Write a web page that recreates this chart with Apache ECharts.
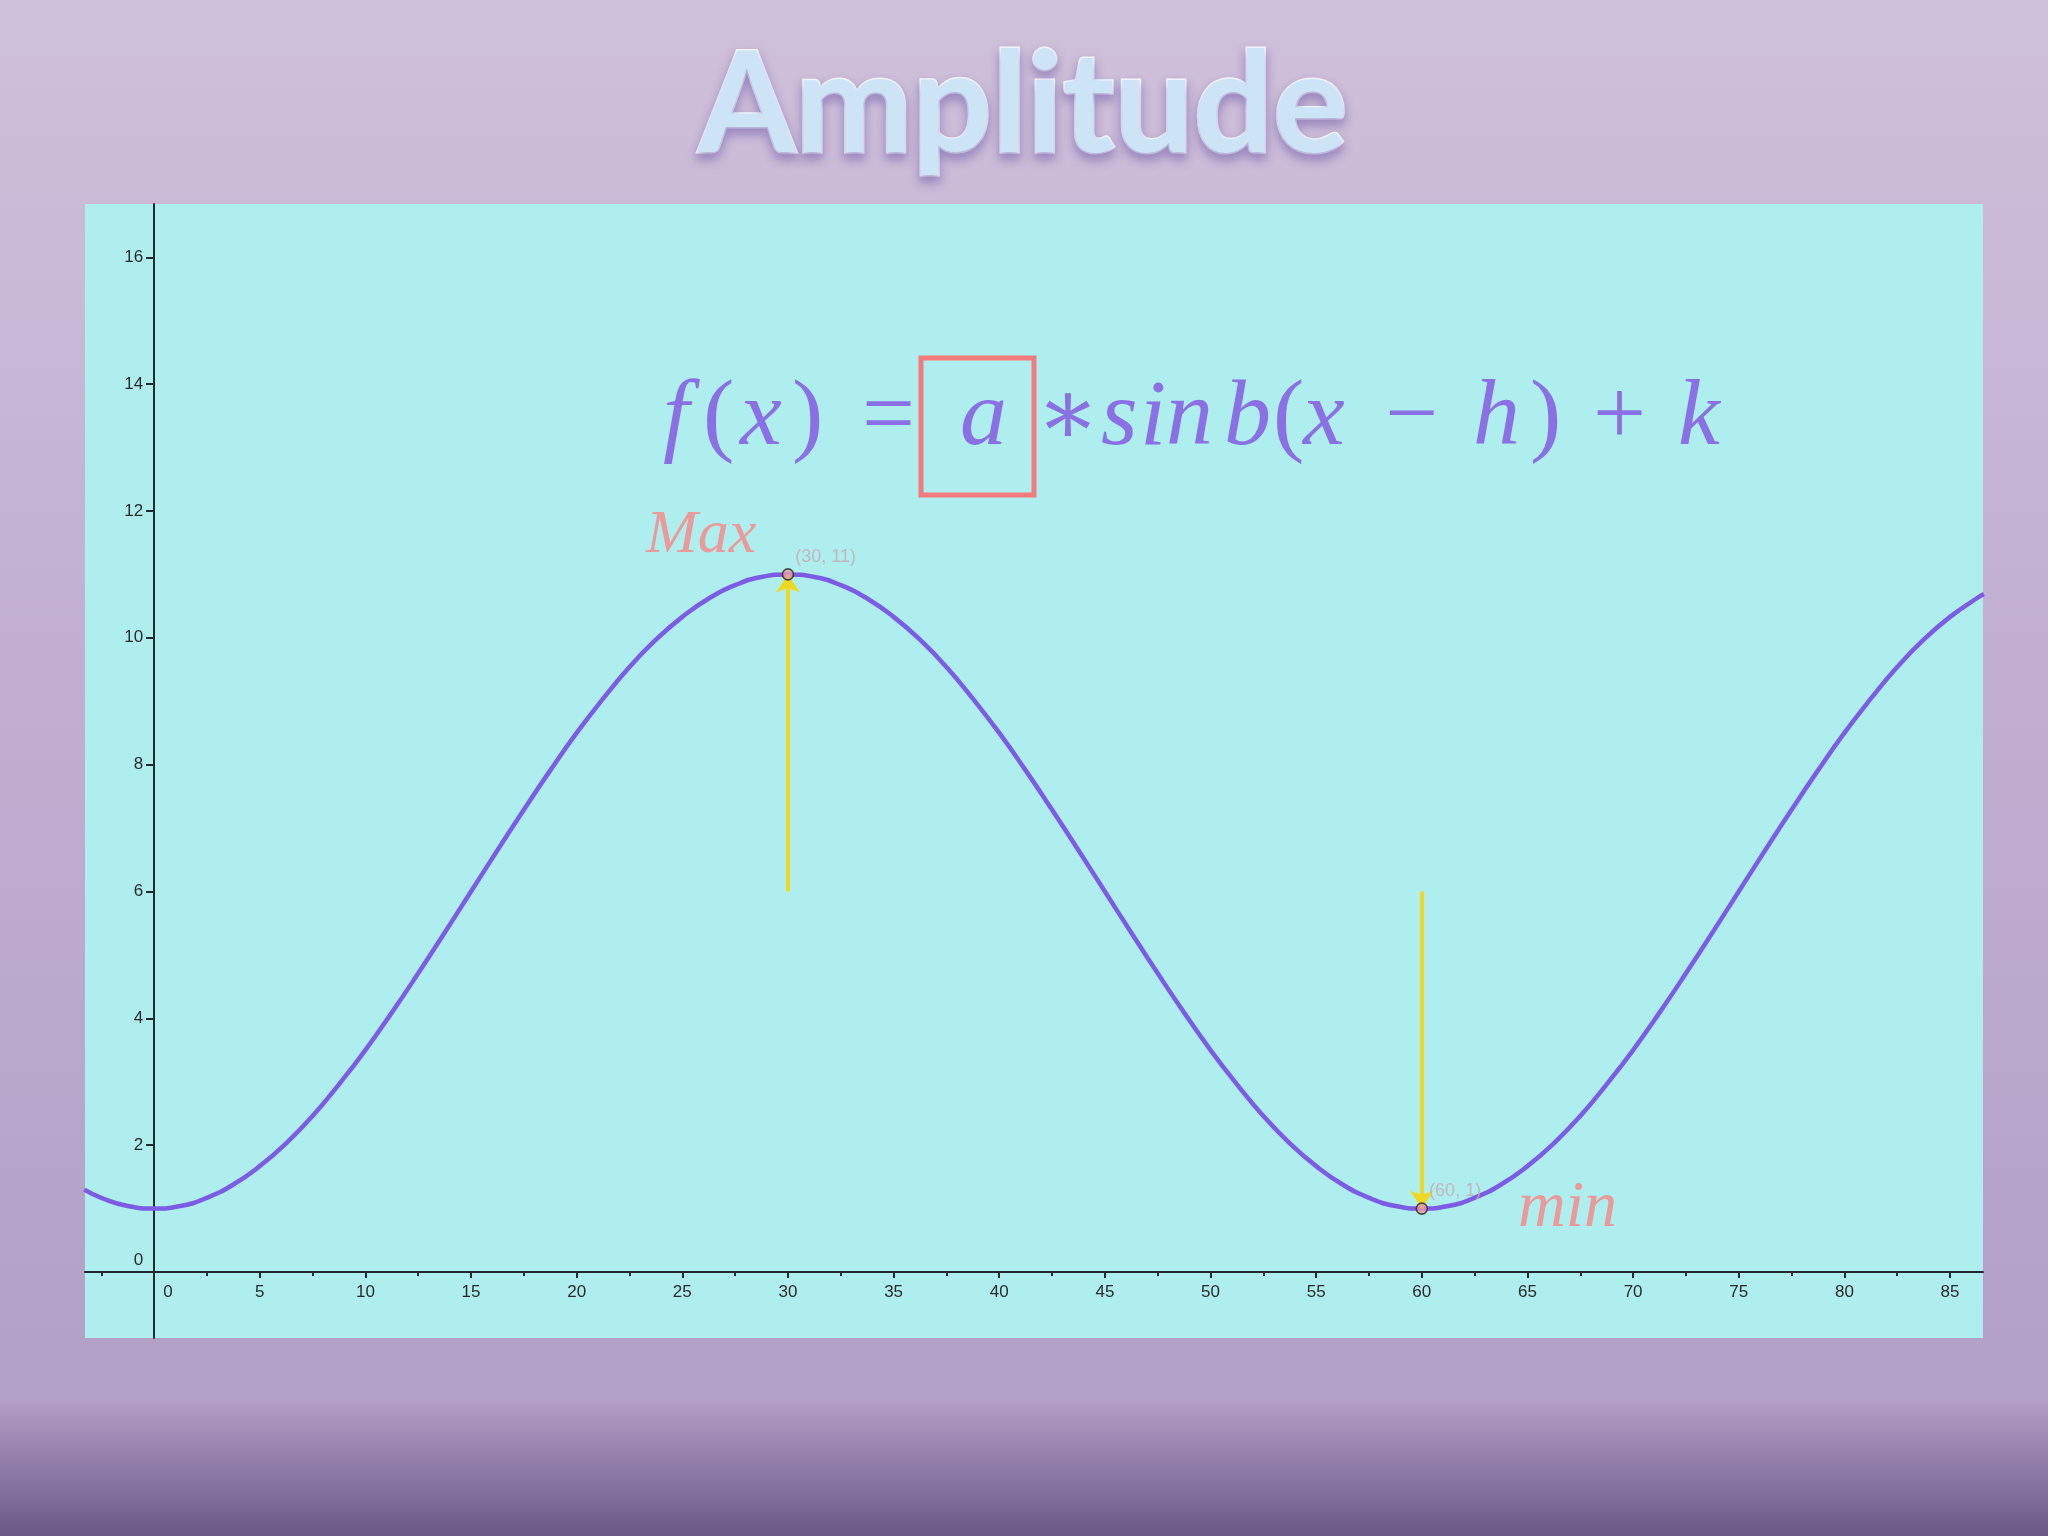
<!DOCTYPE html>
<html>
<head>
<meta charset="utf-8">
<script src="https://cdn.jsdelivr.net/npm/echarts@6/dist/echarts.min.js"></script>
<style>
html,body{margin:0;padding:0;width:2048px;height:1536px;overflow:hidden;}
#chart{width:2048px;height:1536px;}
</style>
</head>
<body>
<div id="chart"></div>
<script>
// ---- data ----
const curveX = [-3.3, -2.5, -1.25,
  0, 1.25, 2.5, 3.75, 5, 6.25, 7.5, 8.75, 10, 11.25, 12.5, 13.75, 15,
  16.25, 17.5, 18.75, 20, 21.25, 22.5, 23.75, 25, 26.25, 27.5, 28.75, 30,
  31.25, 32.5, 33.75, 35, 36.25, 37.5, 38.75, 40, 41.25, 42.5, 43.75, 45,
  46.25, 47.5, 48.75, 50, 51.25, 52.5, 53.75, 55, 56.25, 57.5, 58.75, 60,
  61.25, 62.5, 63.75, 65, 66.25, 67.5, 68.75, 70, 71.25, 72.5, 73.75, 75,
  76.25, 77.5, 78.75, 80, 81.25, 82.5, 83.75, 85, 86.25, 86.6];
const curveY = [1.30, 1.17, 1.04,
  1.00, 1.04, 1.17, 1.38, 1.67, 2.03, 2.46, 2.96, 3.50, 4.09, 4.71, 5.35, 6.00,
  6.65, 7.29, 7.91, 8.50, 9.04, 9.54, 9.97, 10.33, 10.62, 10.83, 10.96, 11.00,
  10.96, 10.83, 10.62, 10.33, 9.97, 9.54, 9.04, 8.50, 7.91, 7.29, 6.65, 6.00,
  5.35, 4.71, 4.09, 3.50, 2.96, 2.46, 2.03, 1.67, 1.38, 1.17, 1.04, 1.00,
  1.04, 1.17, 1.38, 1.67, 2.03, 2.46, 2.96, 3.50, 4.09, 4.71, 5.35, 6.00,
  6.65, 7.29, 7.91, 8.50, 9.04, 9.54, 9.97, 10.33, 10.62, 10.69];
const extremaX = [30, 60];
const extremaY = [11, 1];
const extremaLabels = ['(30, 11)', '(60, 1)'];
const arrowStartY = [6, 6];
const xTickLabels = [0, 5, 10, 15, 20, 25, 30, 35, 40, 45, 50, 55, 60, 65, 70, 75, 80, 85];
const xMinorTicks = [-2.5, 2.5, 7.5, 12.5, 17.5, 22.5, 27.5, 32.5, 37.5, 42.5, 47.5, 52.5, 57.5, 62.5, 67.5, 72.5, 77.5, 82.5];
const yTickLabels = [0, 2, 4, 6, 8, 10, 12, 14, 16];
const titleText = 'Amplitude';
const maxText = 'Max';
const minText = 'min';

// ---- layout (not data) ----
const formulaGlyphs = [
  ['f', 663, true], ['(', 703, false], ['x', 740, true], [')', 792, false],
  ['=', 862, false], ['a', 960, true], ['\u2217', 1036, false],
  ['s', 1101, true], ['i', 1140, true], ['n', 1166, true], ['b', 1224, true],
  ['(', 1273, false], ['x', 1303, true], ['\u2212', 1385, false],
  ['h', 1473, true], [')', 1530, false], ['+', 1593, false], ['k', 1678, true]
];
const X_MIN = -3.27, X_MAX = 86.56, Y_MIN = -1.04, Y_MAX = 16.84;
const GRID = {left: 85, top: 204, width: 1898, height: 1134};
// shift axes inward so they sit on the zero lines
const yAxisOffset = -GRID.width * (0 - X_MIN) / (X_MAX - X_MIN);
const xAxisOffset = -GRID.height * (0 - Y_MIN) / (Y_MAX - Y_MIN);

const curveData = curveX.map((x, i) => [x, curveY[i]]);
const pointData = extremaX.map((x, i) => ({value: [x, extremaY[i]], label: {formatter: extremaLabels[i], offset: i === 0 ? [-4, -17] : [-4, -18]}}));
const arrowData = extremaX.map((x, i) => [{coord: [x, arrowStartY[i]]}, {coord: [x, extremaY[i]]}]);

const axisFont = 'Liberation Sans';
const axisColor = '#2a2a2a';
const lineColor = '#1e2a30';
const formulaColor = '#8a70e4';

const chart = echarts.init(document.getElementById('chart'));

const graphics = [
  {
    type: 'text', x: 1023, y: 107, z: 100,
    style: {
      text: titleText,
      font: 'bold 140px Lato',
      align: 'center', verticalAlign: 'middle',
      fill: '#cde4f6',
      stroke: '#f5faff', lineWidth: 3,
      textShadowColor: 'rgba(110,90,170,0.5)', textShadowBlur: 10, textShadowOffsetY: 6
    }
  },
  {
    type: 'rect', z: 100,
    shape: {x: 921, y: 358, width: 113, height: 137},
    style: {fill: 'none', stroke: '#f37b7b', lineWidth: 5}
  },
  {
    type: 'text', x: 646, y: 536, z: 100,
    style: {text: maxText, font: 'italic 62px "Liberation Serif"', fill: '#f29090', align: 'left', verticalAlign: 'middle', opacity: 0.9}
  },
  {
    type: 'text', x: 1518, y: 1209, z: 100,
    style: {text: minText, font: 'italic 66px "Liberation Serif"', fill: '#f29090', align: 'left', verticalAlign: 'middle', opacity: 0.9}
  }
];
formulaGlyphs.forEach(g => {
  graphics.push({
    type: 'text', x: g[1], y: 419, z: 100,
    style: {
      text: g[0],
      font: (g[2] ? 'italic ' : '') + '94px "Liberation Serif", "DejaVu Serif"',
      fill: formulaColor, align: 'left', verticalAlign: 'middle'
    }
  });
});

chart.setOption({
  backgroundColor: new echarts.graphic.LinearGradient(0, 0, 0, 1, [
    {offset: 0, color: '#cfc0da'},
    {offset: 0.45, color: '#c1aed1'},
    {offset: 0.912, color: '#b3a0c7'},
    {offset: 0.914, color: '#b09cc4'},
    {offset: 1, color: '#6c5887'}
  ]),
  animation: false,
  grid: {
    left: GRID.left, top: GRID.top, width: GRID.width, height: GRID.height,
    show: true, backgroundColor: '#afeeee', borderWidth: 0, containLabel: false
  },
  xAxis: [
    {
      type: 'value', min: X_MIN, max: X_MAX, position: 'bottom', offset: xAxisOffset,
      axisLine: {show: true, onZero: false, lineStyle: {color: lineColor, width: 2}},
      axisTick: {show: true, customValues: xTickLabels, length: 6, lineStyle: {color: lineColor, width: 2}},
      axisLabel: {
        show: true, customValues: xTickLabels, margin: 12,
        fontFamily: axisFont, fontSize: 17, color: axisColor,
        formatter: v => v === 0 ? '{z|0}' : String(v),
        rich: {z: {padding: [0, 0, 0, 28], fontFamily: axisFont, fontSize: 17, color: axisColor}}
      },
      splitLine: {show: false}
    },
    {
      type: 'value', min: X_MIN, max: X_MAX, position: 'bottom', offset: xAxisOffset,
      axisLine: {show: false, onZero: false},
      axisTick: {show: true, customValues: xMinorTicks, length: 4, lineStyle: {color: lineColor, width: 2}},
      axisLabel: {show: false},
      splitLine: {show: false}
    }
  ],
  yAxis: {
    type: 'value', min: Y_MIN, max: Y_MAX, position: 'left', offset: yAxisOffset,
    axisLine: {show: true, onZero: false, lineStyle: {color: lineColor, width: 2}},
    axisTick: {show: true, customValues: yTickLabels, length: 8, lineStyle: {color: lineColor, width: 2}},
    axisLabel: {
      show: true, customValues: yTickLabels, margin: 11,
      fontFamily: axisFont, fontSize: 17, color: axisColor,
      formatter: v => v === 0 ? '{z|0}' : String(v),
      rich: {z: {padding: [0, 0, 24, 0], fontFamily: axisFont, fontSize: 17, color: axisColor}}
    },
    splitLine: {show: false}
  },
  series: [
    {
      type: 'line', xAxisIndex: 0, data: curveData, smooth: true, showSymbol: false,
      clip: true, z: 3,
      lineStyle: {color: '#7c5ce6', width: 4.5}
    },
    {
      type: 'scatter', xAxisIndex: 0, data: pointData, z: 6,
      symbol: 'circle', symbolSize: 11,
      itemStyle: {color: '#e99aa0', borderColor: '#262626', borderWidth: 1.6},
      label: {show: true, position: 'right', fontFamily: axisFont, fontSize: 18, color: '#c7a9b3'},
      markLine: {
        silent: true, symbol: ['none', 'arrow'], symbolSize: 18,
        label: {show: false},
        lineStyle: {type: 'solid', color: '#f0d822', width: 4},
        data: arrowData
      }
    }
  ],
  graphic: graphics
});
</script>
</body>
</html>
